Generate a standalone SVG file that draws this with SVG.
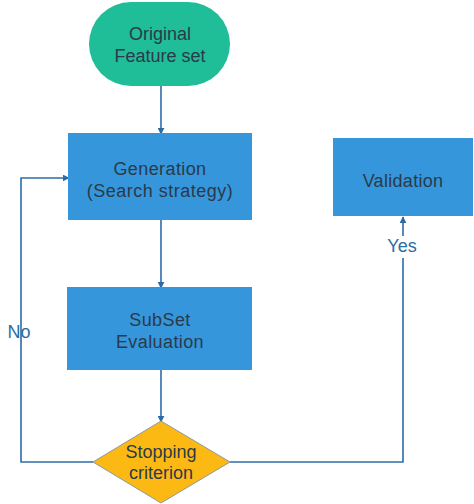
<svg xmlns="http://www.w3.org/2000/svg" width="474" height="504" viewBox="0 0 474 504">
<style>
.box{fill:#3596dc;}
.t{font-family:"Liberation Sans",Arial,sans-serif;font-size:18px;fill:#2b3a4a;text-anchor:middle;}
.c{fill:none;stroke:#2c6ca5;stroke-width:1.6;}
.lbl{font-family:"Liberation Sans",Arial,sans-serif;font-size:18px;fill:#2c6ca5;text-anchor:middle;}
</style>
<defs>
<marker id="ah" viewBox="0 0 10 10" refX="9" refY="5" markerWidth="7" markerHeight="7" orient="auto" markerUnits="userSpaceOnUse">
<path d="M0,0 L10,5 L0,10 z" fill="#2c6ca5"/>
</marker>
</defs>
<rect width="474" height="504" fill="#ffffff"/>
<g id="connectors">
<path class="c" d="M161,86 V134" marker-end="url(#ah)"/>
<path class="c" d="M161,220 V288" marker-end="url(#ah)"/>
<path class="c" d="M161,370 V422" marker-end="url(#ah)"/>
<path class="c" d="M93,462 H21 V178 H69" marker-end="url(#ah)"/>
<path class="c" d="M230,462 H403 V258"/>
<path class="c" d="M403,236 V217" marker-end="url(#ah)"/>
<text class="lbl" x="19" y="338">No</text>
<text class="lbl" x="402" y="252">Yes</text>
</g>
<g id="original">
<rect x="89" y="2" width="141" height="84" rx="42" fill="#1fbd98"/>
<text class="t" x="160" y="40">Original</text>
<text class="t" x="160" y="62">Feature set</text>
</g>
<g id="generation">
<rect class="box" x="68" y="133" width="184" height="87"/>
<text class="t" x="160" y="175" style="letter-spacing:0.4px">Generation</text>
<text class="t" x="160" y="197" style="letter-spacing:0.5px">(Search strategy)</text>
</g>
<g id="subset">
<rect class="box" x="67" y="287" width="185" height="83"/>
<text class="t" x="160" y="326" style="letter-spacing:0.4px">SubSet</text>
<text class="t" x="160" y="348" style="letter-spacing:0.4px">Evaluation</text>
</g>
<g id="stopping">
<path d="M161,421 L230,462 L161,503 L93,462 Z" fill="#fdb913" stroke="#8a9aa0" stroke-width="1"/>
<text class="t" x="161" y="458">Stopping</text>
<text class="t" x="161" y="479">criterion</text>
</g>
<g id="validation">
<rect class="box" x="333" y="138" width="140" height="78"/>
<text class="t" x="403" y="187" style="letter-spacing:0.3px">Validation</text>
</g>
</svg>
